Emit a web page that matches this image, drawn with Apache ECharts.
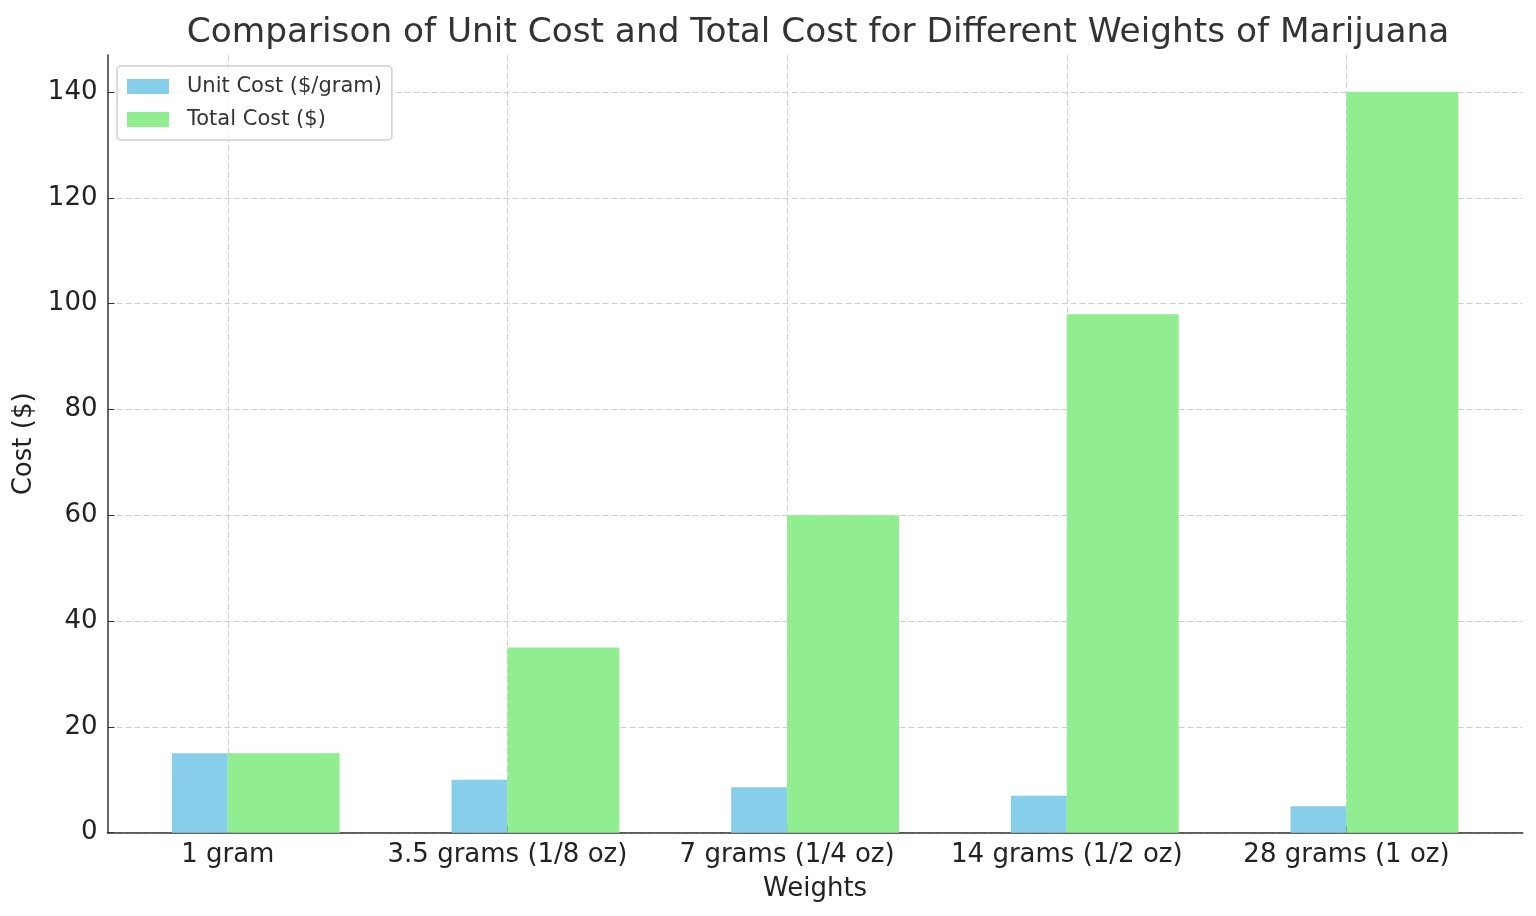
<!DOCTYPE html>
<html>
<head>
<meta charset="utf-8">
<title>Unit Cost vs Total Cost</title>
<script src="https://cdn.jsdelivr.net/npm/echarts@6/dist/echarts.min.js"></script>
<style>
  html, body { margin: 0; padding: 0; background: #fff; }
  #chart { width: 1536px; height: 916px; }
</style>
</head>
<body>
<div id="chart"></div>
<script>
const categories = ['1 gram', '3.5 grams (1/8 oz)', '7 grams (1/4 oz)', '14 grams (1/2 oz)', '28 grams (1 oz)']
const unitCost = [15, 10, 8.57, 7, 5]
const totalCost = [15, 35, 60, 98, 140]
const yTicks = [0, 20, 40, 60, 80, 100, 120, 140]

const FONT = 'DejaVu Sans'
const gridColor = '#cfcfcf'

// bars sit next to the category tick: unit on the left, total on the right
function barRenderer(offset, width) {
  return function (params, api) {
    const x = api.value(0)
    const y = api.value(1)
    const top = api.coord([x + offset, y])
    const bottom = api.coord([x + offset + width, 0])
    return {
      type: 'rect',
      shape: { x: top[0], y: top[1], width: bottom[0] - top[0], height: bottom[1] - top[1] },
      style: api.style(),
    }
  }
}

const chart = echarts.init(document.getElementById('chart'), null, { renderer: 'canvas' })
chart.setOption({
  animation: false,
  textStyle: { fontFamily: FONT },
  title: {
    text: 'Comparison of Unit Cost and Total Cost for Different Weights of Marijuana',
    left: 813,
    textAlign: 'center',
    top: 11,
    textStyle: { fontFamily: FONT, fontSize: 34.3, fontWeight: 'normal', color: '#333' },
  },
  legend: {
    left: 117,
    top: 66,
    orient: 'vertical',
    itemWidth: 42,
    itemHeight: 15,
    itemGap: 12,
    padding: [10, 10, 10, 10],
    borderColor: '#d0d0d0',
    borderWidth: 1.5,
    borderRadius: 4,
    backgroundColor: 'rgba(255,255,255,0.8)',
    textStyle: { fontFamily: FONT, fontSize: 21, color: '#333', padding: [0, 0, 0, 13] },
    data: [
      { name: 'Unit Cost ($/gram)', icon: 'rect' },
      { name: 'Total Cost ($)', icon: 'rect' },
    ],
  },
  grid: { left: 107.5, right: 13.3, top: 55, bottom: 83.3 },
  xAxis: {
    type: 'value',
    min: -0.43,
    max: 4.63,
    name: 'Weights',
    nameLocation: 'middle',
    nameGap: 44,
    nameTextStyle: { fontFamily: FONT, fontSize: 26, color: '#222' },
    axisLine: { show: true, onZero: false, lineStyle: { color: '#333', width: 1.5 } },
    axisTick: { show: true, inside: true, length: 7, customValues: [0, 1, 2, 3, 4], lineStyle: { color: '#333' } },
    axisLabel: {
      customValues: [0, 1, 2, 3, 4],
      formatter: v => categories[Math.round(v)] || '',
      fontFamily: FONT, fontSize: 26, color: '#222', margin: 10,
    },
    splitLine: { show: true, lineStyle: { color: gridColor, type: [6, 3], width: 1 } },
  },
  yAxis: {
    type: 'value',
    min: 0,
    max: 147,
    name: 'Cost ($)',
    nameLocation: 'middle',
    nameGap: 62,
    nameTextStyle: { fontFamily: FONT, fontSize: 26, color: '#222' },
    axisLine: { show: true, onZero: false, lineStyle: { color: '#333', width: 1.5 } },
    axisTick: { show: true, inside: true, length: 7, customValues: yTicks, lineStyle: { color: '#333' } },
    axisLabel: { customValues: yTicks, fontFamily: FONT, fontSize: 26, color: '#222', margin: 10 },
    splitLine: { show: true, lineStyle: { color: gridColor, type: [6, 3], width: 1 } },
  },
  series: [
    {
      name: 'Unit Cost ($/gram)',
      type: 'custom',
      renderItem: barRenderer(-0.2, 0.2),
      itemStyle: { color: '#87CEEB' },
      encode: { x: 0, y: 1 },
      data: unitCost.map((v, i) => [i, v]),
      z: 2,
    },
    {
      name: 'Total Cost ($)',
      type: 'custom',
      renderItem: barRenderer(0, 0.4),
      itemStyle: { color: '#90EE90' },
      encode: { x: 0, y: 1 },
      data: totalCost.map((v, i) => [i, v]),
      z: 2,
    },
  ],
})
</script>
</body>
</html>
